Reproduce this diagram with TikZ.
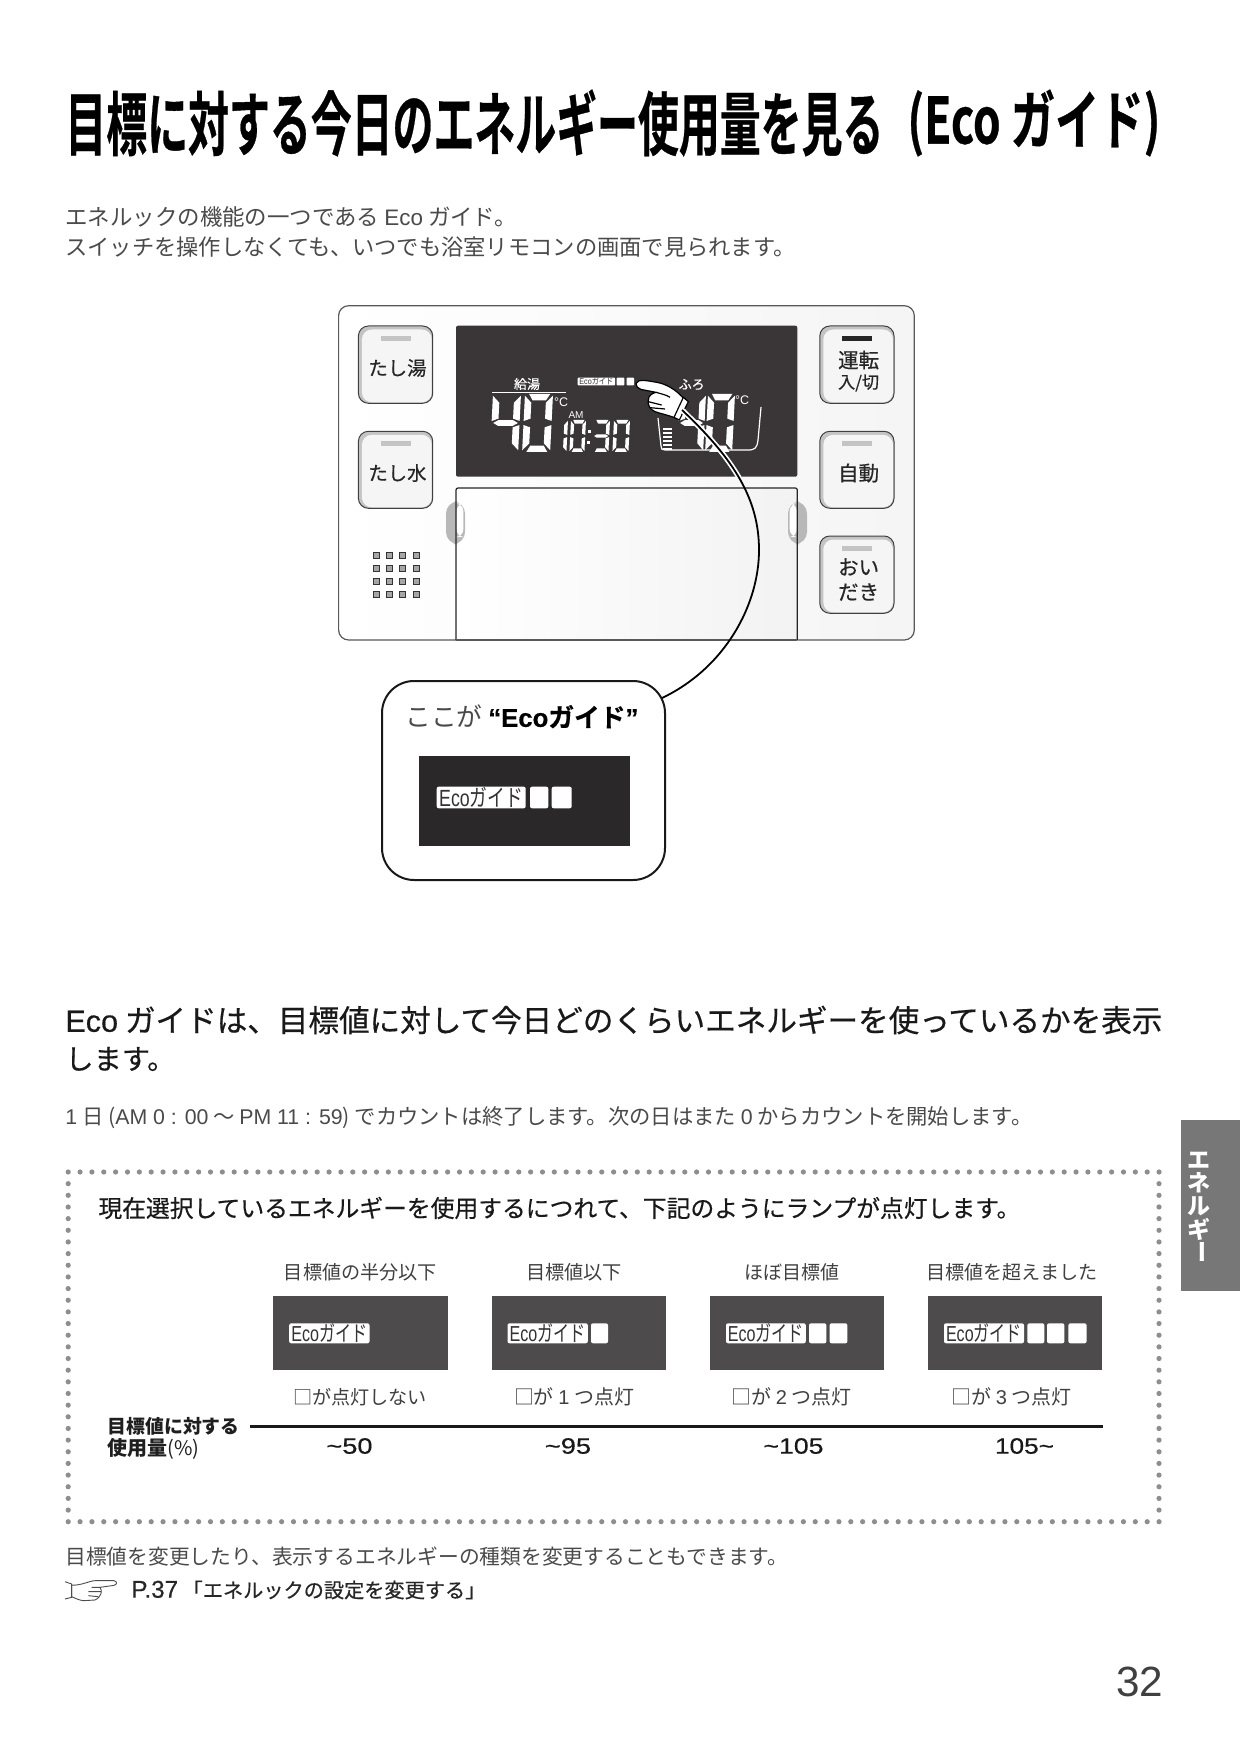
\documentclass[tikz,border=0pt]{standalone}
\usepackage{fontspec}
\setmainfont{Noto Sans CJK JP}
\newfontfamily\lib{Liberation Sans}
\newfontfamily\jpsemi[FakeBold=0.5]{Noto Sans CJK JP}
\newfontfamily\libsemi[FakeBold=0.4]{Liberation Sans}
\newfontfamily\jpheavy[BoldFont={Noto Sans CJK JP Bold},FakeBold=0.6]{Noto Sans CJK JP Bold}
\definecolor{bodyg}{HTML}{4A4A4A}
\definecolor{lcdk}{HTML}{3A3637}
\definecolor{boxk}{HTML}{4D4B4C}
\definecolor{calk}{HTML}{2B2829}
\definecolor{dotg}{HTML}{8E8E8E}
\definecolor{tabg}{HTML}{777777}
\definecolor{btng}{HTML}{C4C4C4}
\newdimen\pxu \pxu=0.5pt
\newcommand{\txt}[6][]{\node[lab,#1] (#2) at (#3,#4) {\resizebox{#5\pxu}{!}{#6}};}
\newcommand{\lcdseg}[1]{\csname seg#1\endcsname}
\def\th{2.4}
\newcommand{\sega}{\fill (1.5,0)--(9,0)--({10-\th},2.2)--({\th+.4},2.2)--cycle;}
\newcommand{\segb}{\fill (10,.6)--(10,9.3)--({10-\th},8.5)--({10-\th},3)--cycle;}
\newcommand{\segc}{\fill (10,10.7)--(10,19.4)--({10-\th},17)--({10-\th},11.5)--cycle;}
\newcommand{\segd}{\fill (1.5,20)--(9,20)--({10-\th},17.8)--({\th+.4},17.8)--cycle;}
\newcommand{\sege}{\fill (0,10.7)--({\th},11.5)--({\th},17)--(0,19.4)--cycle;}
\newcommand{\segf}{\fill (0,.6)--({\th},3)--({\th},8.5)--(0,9.3)--cycle;}
\newcommand{\segg}{\fill (.6,10)--({\th},9)--({10-\th},9)--(9.4,10)--({10-\th},11)--({\th},11)--cycle;}
\newcommand{\lcddigit}[5]{\begin{scope}[white,shift={(#1,#2)},xslant=0.05,xscale=#3/10,yscale=#4/20]
  \foreach \s in {#5}{\lcdseg{\s}}\end{scope}}
\newcommand{\handshape}{(498,130) .. controls (505,116) and (530,122) .. (560,127) .. controls (590,132) and (620,150) .. (645,180) -- (618,235) .. controls (595,225) and (575,222) .. (555,215) .. controls (540,208) and (532,195) .. (535,180) .. controls (535,168) and (545,160) .. (558,157) -- (512,148) .. controls (503,145) and (497,138) .. (498,130) -- cycle}
\newcommand{\handlines}{(558,157) .. controls (575,162) and (590,165) .. (600,172) (535,185) -- (575,195) (540,203) -- (585,207)}
\newcommand{\btn}[4]{%
 \fill[btng,rounded corners=5] (#1,#2) rectangle (#3,#4);
 \fill[white!96!black,rounded corners=5] (#1+3.5,#2+3.5) rectangle (#3-1,#4-1);
 \draw[black!75,line width=.5pt,rounded corners=5] (#1,#2) rectangle (#3,#4);}
\newcommand{\ecolab}[7][1]{% radius; name x1 y1 x2 y2 fontwidth
 \fill[white,rounded corners=#1] (#3,#4) rectangle (#5,#6);
 \pgfmathsetlengthmacro{\ecoh}{(#6-#4)*0.47}
 \node[inner sep=0pt,text=black!80] (#2) at ({(#3+#5)/2},{(#4+#6)/2}) {\resizebox*{#7\pxu}{\ecoh}{{\lib Eco}ガイド}};}
\newcommand{\lamp}[5][1]{\fill[white,rounded corners=#1] (#2,#3) rectangle (#4,#5);}
\tikzset{lab/.style={inner sep=0pt,anchor=west},
 every node/.style={font=\fontsize{20pt}{24pt}\selectfont},
 clab/.style={inner sep=0pt,anchor=center}}
\begin{document}
\begin{tikzpicture}[x=0.5pt,y=-0.5pt]
\useasboundingbox (0,0) rectangle (1240,1754);
\fill[white] (0,0) rectangle (1240,1754);
% title
\node[lab] (title) at (65,123) {\resizebox*{818\pxu}{67\pxu}{\jpheavy 目標に対する今日のエネルギー使用量を見る}};
\node[lab] (titleb) at (907,123) {\resizebox*{253\pxu}{67\pxu}{\jpheavy (Eco ガイド)}};
\txt[text=bodyg]{introa}{65}{217}{452}{エネルックの機能の一つである {\lib Eco} ガイド。}
\txt[text=bodyg]{introb}{65}{247}{730}{スイッチを操作しなくても、いつでも浴室リモコンの画面で見られます。}
% panel
\shade[left color=white,right color=black!4,rounded corners=5] (338.6,305.7) rectangle (914.3,640);
\draw[black!65,line width=.6pt,rounded corners=5] (338.6,305.7) rectangle (914.3,640);
\btn{358.4}{326}{432.7}{403.3}
\btn{358.4}{431.3}{432.7}{508.3}
\btn{819.8}{326}{894}{403.3}
\btn{819.8}{431.3}{894}{508.3}
\btn{819.8}{536}{894}{613.3}
\fill[btng] (381.3,336) rectangle (411,340.7);
\fill[btng] (381.3,441) rectangle (411,445.7);
\fill[black!85] (842,336) rectangle (871.6,340.7);
\fill[btng] (842,441) rectangle (871.6,445.7);
\fill[btng] (842,546) rectangle (871.6,550.7);
\tikzset{btxt/.style={clab,text=black!85}}
\txt[btxt]{ba}{397.5}{368}{58}{\jpsemi たし湯}
\txt[btxt]{bb}{397.5}{473}{58}{\jpsemi たし水}
\txt[btxt]{bc}{858.6}{360}{41}{\jpsemi 運転}
\txt[btxt]{bd}{858.6}{383}{41}{\jpsemi 入/切}
\txt[btxt]{be}{858.6}{473}{41}{\jpsemi 自動}
\txt[btxt]{bf}{858.6}{567}{41}{\jpsemi おい}
\txt[btxt]{bg}{858.6}{592}{41}{\jpsemi だき}
% speaker
\foreach \sx in {376.5,389.6,402.6,416.5}
 \foreach \sy in {555.3,568.3,581.3,594.7}
  \filldraw[fill=black!35,draw=black!80,line width=.4pt] (\sx-3.2,\sy-3) rectangle (\sx+3.2,\sy+3);
% cover
\shade[left color=white,right color=black!5] (456,488) rectangle (797.3,640);
\fill[black!28,rounded corners=6] (446,501.5) rectangle (465,544);
\fill[white,rounded corners=4] (456.4,503.5) rectangle (463.4,537);
\fill[black!28,rounded corners=6] (788,501.5) rectangle (807,544);
\fill[white,rounded corners=4] (789.6,503.5) rectangle (797,537);
\draw[black!85,line width=.6pt,rounded corners=1] (456,640) -- (456,488) -- (797.3,488) -- (797.3,640);
\draw[black!65,line width=.6pt] (456,640) -- (797.3,640);
% lcd
\fill[lcdk,rounded corners=1] (456,325.7) rectangle (797.3,476.7);
\txt[clab,text=white]{kyuto}{527}{384}{26}{\jpsemi 給湯}
\draw[white,line width=.5pt] (492.3,392.7) -- (565.7,392.7);
\def\th{2.4}
\lcddigit{493}{394}{28}{58}{b,c,f,g}
\lcddigit{525}{394}{28}{58}{a,b,c,d,e,f}
\txt[clab,text=white]{cdega}{561}{402}{14}{\lib °C}
\txt[clab,text=white]{am}{576}{415}{15}{\lib AM}
\def\th{2.2}
\lcddigit{552}{420}{16}{32}{b,c}
\lcddigit{571}{420}{15}{32}{a,b,c,d,e,f}
\fill[white] (587.5,430) rectangle (590.5,433);
\fill[white] (586.5,441) rectangle (589.5,444);
\lcddigit{594}{420}{16}{32}{a,b,c,d,g}
\lcddigit{614}{420}{16}{32}{a,b,c,d,e,f}
\ecolab[.4]{ecoa}{577.7}{377.7}{615}{385.3}{34}
\lamp[.4]{616.7}{377.7}{624.3}{385.3}
\lamp[.4]{626.7}{377.7}{634}{385.3}
\txt[clab,text=white]{furo}{691.7}{384.5}{26}{\jpsemi ふろ}
\def\th{2.4}
\lcddigit{680}{394}{26}{58}{b,c,f,g}
\lcddigit{708}{394}{27}{58}{a,b,c,d,e,f}
\txt[clab,text=white]{cdegb}{742}{400}{14}{\lib °C}
\draw[white,line width=.6pt] (658,418) -- (661,446) .. controls (661,449) and (662,450) .. (665,450) -- (748,450) .. controls (755,450) and (757,448) .. (758,440) -- (761,407);
\foreach \ly in {428,432,436,440,444,448}
  \fill[white] (663,\ly) rectangle (672,\ly+1.6);
% hand
\begin{scope}[shift={(470,340)},scale=1/3]
 \filldraw[fill=white,draw=black,line width=.6pt] \handshape;
 \draw[black,line width=.6pt] \handlines;
 \filldraw[fill=white,draw=black,line width=.6pt] (640,172) -- (655,185) -- (628,240) -- (612,232) -- cycle;
\end{scope}
% callout
\node[draw=black!90,fill=white,line width=1pt,rounded corners=16pt,minimum width=141.5pt,minimum height=99.5pt,inner sep=0pt] (callout) at (523.5,780.5) {};
\coordinate (wrist) at (682,410);
\coordinate (calljoin) at (662,698);
\begin{scope}
 \clip (456,325.7) rectangle (797.3,476.7);
 \draw[white,line width=2.6pt] (wrist) .. controls (735,460) and (759,500) .. (759,550);
\end{scope}
\draw[black,line width=.9pt] (wrist) .. controls (735,460) and (759,500) .. (759,550) .. controls (759,605) and (725,668) .. (calljoin);
\node[lab] (calltext) at (405,716.7) {\resizebox{233\pxu}{!}{{\color{bodyg}ここが} {\libsemi\bfseries “Eco}{\jpheavy ガイド}{\libsemi\bfseries ”}}};
\fill[calk] (419,756) rectangle (630,845.7);
\ecolab{ecob}{436.7}{786.7}{525.7}{808.3}{84}
\lamp{530}{786.7}{548.3}{808.3}
\lamp{551.7}{786.7}{571.7}{808.3}
% headings
\txt[text=black!90]{heada}{65}{1020}{1097}{\jpsemi {\libsemi Eco} ガイドは、目標値に対して今日どのくらいエネルギーを使っているかを表示}
\txt[text=black!90]{headb}{65}{1059}{110}{\jpsemi します。}
\txt[text=bodyg]{noteline}{65}{1118}{967}{{\lib 1} 日 ({\lib AM 0 : 00} 〜 {\lib PM 11 : 59}) でカウントは終了します。次の日はまた {\lib 0} からカウントを開始します。}
% dotted box
\foreach \i in {0,...,92}{
 \fill[dotg] (68.2+\i*11.857,1172) circle (2.6);
 \fill[dotg] (68.2+\i*11.857,1521.7) circle (2.6);}
\foreach \i in {1,...,29}{
 \fill[dotg] (68.2,1172+\i*11.657) circle (2.6);
 \fill[dotg] (1159,1172+\i*11.657) circle (2.6);}
\txt[text=black!90]{lead}{98}{1208}{922}{\jpsemi 現在選択しているエネルギーを使用するにつれて、下記のようにランプが点灯します。}
\tikzset{hd/.style={clab,text=black!75}}
\txt[hd]{ha}{360.4}{1272.7}{153}{目標値の半分以下}
\txt[hd]{hb}{574}{1272.7}{96}{目標値以下}
\txt[hd]{hc}{792}{1272.7}{95}{ほぼ目標値}
\txt[hd]{hd}{1012}{1272.7}{172}{目標値を超えました}
\fill[boxk] (273.4,1296) rectangle (448,1370);
\fill[boxk] (491.7,1296) rectangle (666,1370);
\fill[boxk] (709.8,1296) rectangle (884,1370);
\fill[boxk] (928,1296) rectangle (1102.4,1370);
\ecolab{la}{289.2}{1323.3}{369.5}{1343.3}{76}
\ecolab{lb}{507.5}{1323.3}{587.8}{1343.3}{76}
\ecolab{lc}{726}{1323.3}{805.8}{1343.3}{76}
\ecolab{ld}{944}{1323.3}{1024}{1343.3}{76}
\lamp{591}{1323.3}{608}{1343.3}
\lamp{809}{1323.3}{826.4}{1343.3}
\lamp{829.6}{1323.3}{847.4}{1343.3}
\lamp{1027.3}{1323.3}{1044.3}{1343.3}
\lamp{1047}{1323.3}{1064.4}{1343.3}
\lamp{1068.4}{1323.3}{1086.6}{1343.3}
\txt[hd]{sa}{360}{1396.7}{134}{□が点灯しない}
\txt[hd]{sb}{574}{1396.7}{120}{□が {\lib 1} つ点灯}
\txt[hd]{sc}{791.5}{1396.7}{120}{□が {\lib 2} つ点灯}
\txt[hd]{sd}{1011.5}{1396.7}{120}{□が {\lib 3} つ点灯}
\coordinate (axisl) at (249.7,1426.7);
\coordinate (axisr) at (1103,1426.7);
\draw[black!90,line width=1.6pt] (axisl) -- (axisr);
\txt[text=black!88]{ya}{107.3}{1426}{132}{\bfseries 目標値に対する}
\node[lab,text=black!88] (yb) at (107.3,1449) {\resizebox{92\pxu}{!}{\bfseries 使用量\mdseries (\%)}};
\tikzset{vl/.style={clab,text=black!90}}
\node[vl] (va) at (349.5,1446) {\resizebox{46\pxu}{15.5\pxu}{\libsemi\textasciitilde 50}};
\node[vl] (vb) at (568,1446) {\resizebox{46\pxu}{15.5\pxu}{\libsemi\textasciitilde 95}};
\node[vl] (vc) at (793.5,1446) {\resizebox{60\pxu}{15.5\pxu}{\libsemi\textasciitilde 105}};
\node[vl] (vd) at (1024.5,1446) {\resizebox{59\pxu}{15.5\pxu}{\libsemi 105\textasciitilde}};
% bottom
\txt[text=bodyg]{foot}{65}{1556.7}{723}{目標値を変更したり、表示するエネルギーの種類を変更することもできます。}
\begin{scope}[shift={(60,1570)},scale=1/3]
 \filldraw[fill=white,draw=black!70,line width=.45pt] (35,45) .. controls (60,48) and (90,32) .. (105,32) -- (162,32) .. controls (172,34) and (172,44) .. (162,46) -- (120,52) .. controls (128,62) and (125,80) .. (105,90) -- (70,92) .. controls (55,90) and (45,84) .. (35,80) -- cycle;
 \draw[black!70,line width=.45pt] (120,52) -- (95,52) (85,65) -- (124,65) (85,77) -- (115,80) (15,35) -- (35,42) -- (35,82) -- (15,87);
\end{scope}
\node[lab,text=black!85] (ref) at (131,1590) {\resizebox{354\pxu}{!}{{\libsemi\fontsize{24pt}{24pt}\selectfont P.37} {\jpsemi「エネルックの設定を変更する」}}};
\txt[text=black!75]{pageno}{1116}{1682}{47}{\lib 32}
% tab
\fill[tabg] (1181,1120) rectangle (1240,1290.7);
\foreach \c/\yy/\nm in {エ/1160/ta,ネ/1183/tb,ル/1206/tc,ギ/1229/td}
  \node[inner sep=0pt,text=white] (\nm) at (1199,\yy) {\resizebox{23\pxu}{!}{\bfseries \c}};
\node[inner sep=0pt,text=white,rotate=-90] (te) at (1199,1252) {\resizebox{23\pxu}{!}{\bfseries ー}};
\end{tikzpicture}
\end{document}
